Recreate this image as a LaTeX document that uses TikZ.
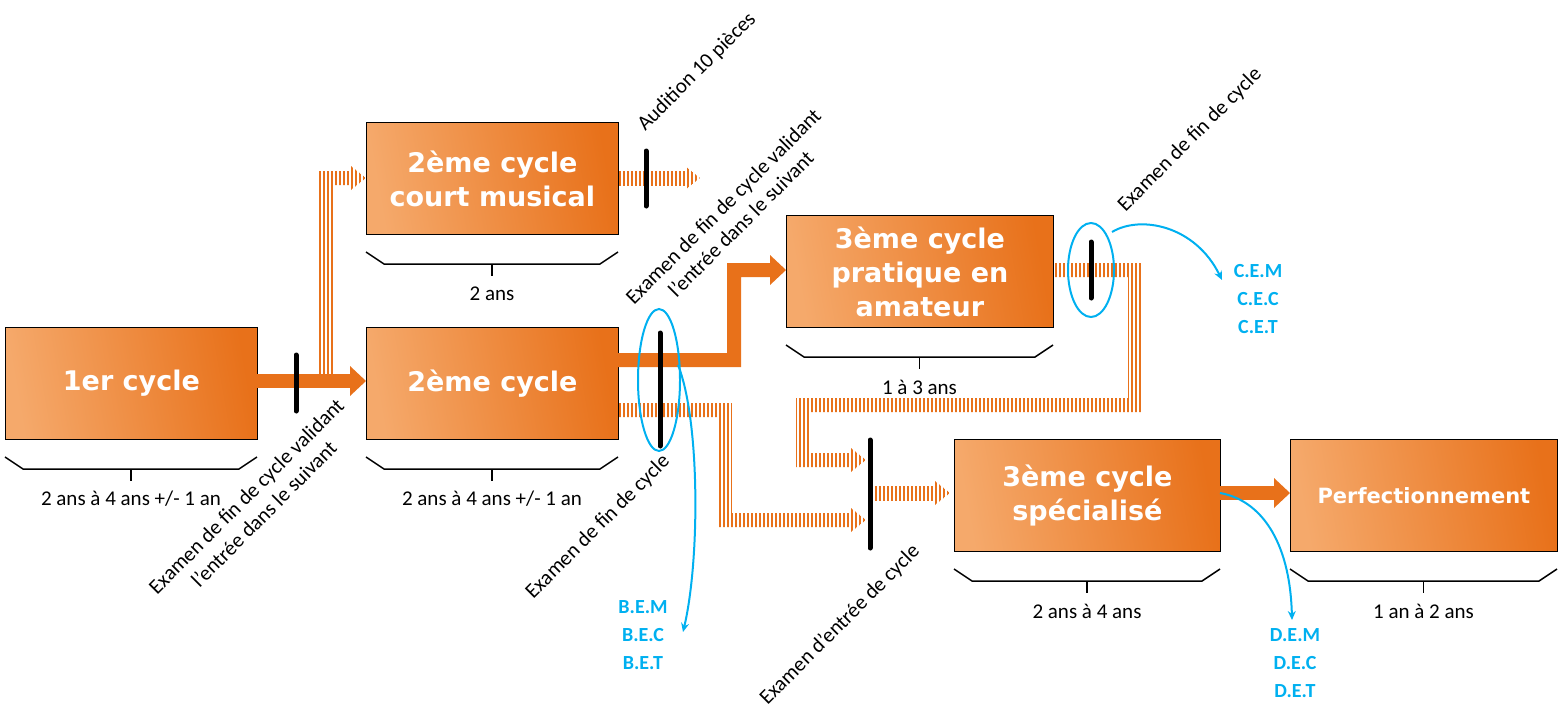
\documentclass[tikz,border=0pt]{standalone}
\usepackage{fontspec}
\setmainfont{Carlito}
\newfontfamily\tfont{DejaVu Sans}
\usetikzlibrary{arrows.meta}
\definecolor{oL}{HTML}{F5A96B}
\definecolor{oD}{HTML}{E8711A}
\definecolor{oS}{HTML}{E8711A}
\definecolor{bl}{HTML}{00B0F0}
\begin{document}
\begin{tikzpicture}[x=1pt,y=-1pt,
 box/.style={draw=black,line width=0.8pt,left color=oL,right color=oD,shading angle=100},
 ttl/.style={text=white,font=\tfont\bfseries\fontsize{27}{34}\selectfont,align=center},
 lab/.style={font=\fontsize{21}{24}\selectfont},
 rlab/.style={font=\fontsize{21}{25}\selectfont,rotate=45,align=center},
 bt/.style={text=bl,font=\bfseries\fontsize{20}{28}\selectfont,align=center},
 sol/.style={fill=oS},
 bar/.style={line width=5pt,line cap=round},
 brc/.style={line width=1.5pt},
 blc/.style={draw=bl,line width=2pt}]
\useasboundingbox (0,0) rectangle (1565,726);
\newcommand{\mybrc}[4]{\draw[brc] (#1,#3+18)--(#1+18,#3+30)--(#2-18,#3+30)--(#2,#3+18);
 \draw[brc] ({(#1+#2)/2},#3+30)--({(#1+#2)/2},#3+42);
 \node[lab] at ({(#1+#2)/2},#3+60) {#4};}
\newcommand{\stripes}[1]{\begin{scope}\clip #1; \foreach \x in {300,304,...,1160} \draw[oS,line width=2pt] (\x,100)--(\x,560);\end{scope}}
\newcommand{\shead}[2]{\stripes{(#1-15,#2-12)--(#1,#2)--(#1-15,#2+12)--cycle}}
% boxes
\node[box,minimum width=252,minimum height=112,anchor=north west] (c1) at (5,327) {};
\node[ttl] at (c1) {1er cycle};
\node[box,minimum width=252,minimum height=112,anchor=north west] (cc) at (366,122) {};
\node[ttl] at (cc) {2ème cycle\\court musical};
\node[box,minimum width=252,minimum height=112,anchor=north west] (c2) at (366,327) {};
\node[ttl] at (c2) {2ème cycle};
\node[box,minimum width=267,minimum height=112,anchor=north west] (ca) at (786,215) {};
\node[ttl] at (ca) {3ème cycle\\pratique en\\amateur};
\node[box,minimum width=266,minimum height=112,anchor=north west] (cs) at (954,439) {};
\node[ttl] at (cs) {3ème cycle\\spécialisé};
\node[box,minimum width=267,minimum height=112,anchor=north west] (cp) at (1290,439) {};
\node[ttl,font=\tfont\bfseries\fontsize{21}{24}\selectfont] at (cp) {Perfectionnement};
% braces
\mybrc{5}{257}{439}{2 ans à 4 ans +/- 1 an}
\mybrc{366}{618}{234}{2 ans}
\mybrc{366}{618}{439}{2 ans à 4 ans +/- 1 an}
\mybrc{786}{1053}{327}{1 à 3 ans}
\mybrc{954}{1220}{551}{2 ans à 4 ans}
\mybrc{1290}{1557}{551}{1 an à 2 ans}
% striped arrows
\stripes{(318,374)--(318,171)--(352,171)--(352,185)--(334,185)--(334,374)--cycle} \shead{366}{178}
\stripes{(618,171) rectangle (686,185)} \shead{700}{178}
\stripes{(618,403)--(732,403)--(732,513)--(852,513)--(852,527)--(718,527)--(718,417)--(618,417)--cycle} \shead{866}{520}
\stripes{(1053,263)--(1142,263)--(1142,412)--(810,412)--(810,453)--(852,453)--(852,467)--(796,467)--(796,398)--(1128,398)--(1128,277)--(1053,277)--cycle} \shead{866}{460}
\stripes{(875,486) rectangle (936,500)} \shead{950}{493}
% solid arrows
\path[sol] (257,374) rectangle (350,388); \path[sol] (350,366)--(366,381)--(350,396)--cycle;
\path[sol] (618,353)--(727,353)--(727,263)--(770,263)--(770,277)--(741,277)--(741,367)--(618,367)--cycle; \path[sol] (770,255)--(786,270)--(770,285)--cycle;
\path[sol] (1220,486) rectangle (1274,500); \path[sol] (1274,478)--(1290,493)--(1274,508)--cycle;
% bars
\draw[bar] (296,355)--(296,411);
\draw[bar] (646,151)--(646,206);
\draw[bar] (660,333)--(660,446);
\draw[bar] (1091,242)--(1091,298);
\draw[bar] (870,440)--(870,548);
% blue
\draw[blc] (659,380) ellipse (21 and 71);
\draw[blc] (1091,270) ellipse (23 and 47);
\node[bt] (b) at (643,635) {B.E.M\\B.E.C\\B.E.T};
\node[bt] (c) at (1258,299) {C.E.M\\C.E.C\\C.E.T};
\node[bt] (d) at (1295,663) {D.E.M\\D.E.C\\D.E.T};
\coordinate (b0) at (678,365); \coordinate (c0) at (1112,232); \coordinate (d0) at (1220,493);
\draw[blc,-{Stealth[length=9pt,width=8pt]}] (b0) .. controls (700,420) and (700,560) .. (683,632);
\draw[blc,-{Stealth[length=9pt,width=8pt]}] (c0) .. controls (1140,215) and (1195,225) .. (1222,280);
\draw[blc,-{Stealth[length=9pt,width=8pt]}] (d0) .. controls (1260,500) and (1290,540) .. (1292,620);
% rotated labels
\node[rlab] at (255,505) {Examen de fin de cycle validant\\l'entrée dans le suivant};
\node[rlab] at (732,215) {Examen de fin de cycle validant\\l'entrée dans le suivant};
\node[rlab] at (598,527) {Examen de fin de cycle};
\node[rlab] at (697,72) {Audition 10 pièces};
\node[rlab] at (1190,140) {Examen de fin de cycle};
\node[rlab] at (840,625) {Examen d'entrée de cycle};
\end{tikzpicture}
\end{document}
